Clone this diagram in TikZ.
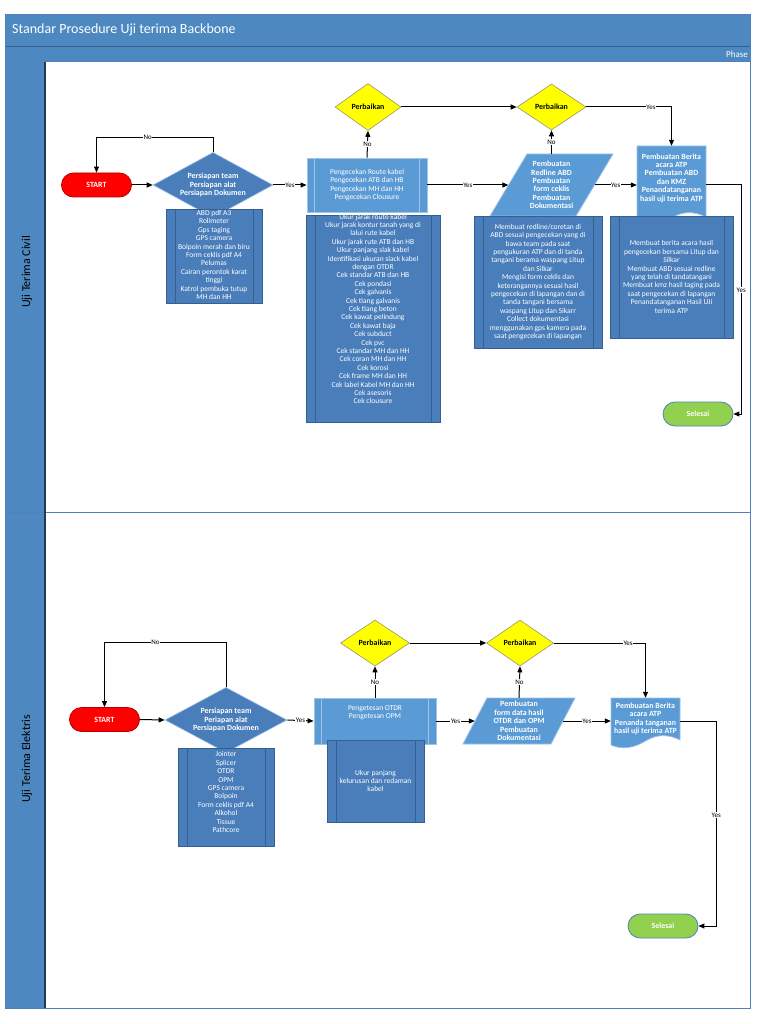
\documentclass[tikz,border=0pt]{standalone}
\usepackage{fontspec}
\setmainfont{Carlito}
\usetikzlibrary{shapes.geometric,arrows.meta,calc}
\definecolor{hdrblue}{RGB}{77,136,193}
\definecolor{hdrline}{RGB}{55,96,146}
\definecolor{frameblue}{RGB}{79,129,189}
\definecolor{procblue}{RGB}{91,155,213}
\definecolor{procborder}{RGB}{157,195,230}
\definecolor{listblue}{RGB}{74,126,187}
\definecolor{listborder}{RGB}{54,95,145}
\definecolor{perbyellow}{RGB}{255,255,0}
\definecolor{perbborder}{RGB}{150,150,110}
\definecolor{startred}{RGB}{255,0,0}
\definecolor{startborder}{RGB}{180,0,0}
\definecolor{endgreen}{RGB}{146,208,80}
\definecolor{endborder}{RGB}{79,129,189}
\begin{document}
\begin{tikzpicture}[x=1pt,y=-1pt,
  txtb/.style={text=white, font=\fontsize{7.9}{8.4}\selectfont\bfseries, align=center, inner sep=0pt},
  listtxt/.style={text=white, font=\fontsize{7.5}{8.4}\selectfont, align=center, inner sep=0pt},
  term/.style={rectangle, rounded corners=12pt, minimum width=70pt, minimum height=24pt, line width=0.8pt, txtb},
  startnode/.style={term, fill=startred, draw=startborder},
  endnode/.style={term, fill=endgreen, draw=endborder},
  dec/.style={diamond, fill=listblue, draw=procborder, line width=0.6pt, txtb, inner sep=-6pt, minimum width=120pt, minimum height=56pt},
  perb/.style={diamond, fill=perbyellow, draw=perbborder, line width=0.6pt, inner sep=0pt, text=black, font=\fontsize{7.9}{8.4}\selectfont\bfseries},
  proc/.style={rectangle, fill=procblue, draw=procborder, line width=0.8pt, listtxt,
    path picture={\draw[procborder, line width=0.6pt]
      ([xshift=7.5pt]path picture bounding box.north west) -- ([xshift=7.5pt]path picture bounding box.south west)
      ([xshift=-7.5pt]path picture bounding box.north east) -- ([xshift=-7.5pt]path picture bounding box.south east);}},
  listbox/.style={rectangle, fill=listblue, draw=listborder, line width=0.8pt, inner sep=0pt,
    path picture={\draw[listborder, line width=0.6pt]
      ([xshift=9pt]path picture bounding box.north west) -- ([xshift=9pt]path picture bounding box.south west)
      ([xshift=-9pt]path picture bounding box.north east) -- ([xshift=-9pt]path picture bounding box.south east);}},
  shapefill/.style={fill=procblue, draw=procborder, line width=0.8pt},
  conn/.style={draw=black, line width=1pt, -{Triangle[length=6pt,width=5pt]}},
  lbl/.style={fill=white, inner sep=0.6pt, text=black, font=\fontsize{7}{7.5}\selectfont}
]
\useasboundingbox (0,0) rectangle (768,1024);
\fill[white] (0,0) rectangle (768,1024);

% ---------- frame ----------
\fill[hdrblue] (5,15) rectangle (750,62);
\draw[hdrline, line width=0.8pt] (5,46) -- (750,46);
\node[anchor=west, text=white, font=\fontsize{14}{16}\selectfont, inner sep=0pt] (title) at (12,30) {Standar Prosedure Uji terima Backbone};
\node[anchor=east, text=white, font=\fontsize{9}{10}\selectfont, inner sep=0pt] (phase) at (748,54) {Phase};
\fill[hdrblue] (5,62) rectangle (45,1008);
\draw[frameblue, line width=1pt] (45,62) rectangle (750,1008);
\draw[frameblue, line width=1pt] (5,512) -- (750,512);
\draw[frameblue, line width=1pt] (5,15) rectangle (750,1008);
\draw[hdrline!60!black, line width=1.3pt] (45,62) -- (45,1008);
\node[rotate=90, text=black, font=\fontsize{12}{14}\selectfont] (lane1) at (27,272) {Uji Terima Civil};
\node[rotate=90, text=black, font=\fontsize{12}{14}\selectfont] (lane2) at (27,759) {Uji Terima Elektris};

% ---------- lane 1 ----------
\node[startnode] (s1) at (96.5,185) {START};
\node[dec] (dm1) at (213,185) {Persiapan team\\Persiapan alat\\Persiapan Dokumen};
\node[listbox, minimum width=96pt, minimum height=94pt] (la) at (214,256) {};
\node[listtxt, anchor=north] (lat) at ([yshift=-1.5pt]la.north) {ABD pdf A3\\Rolimeter\\Gps taging\\GPS camera\\Bolpoin merah dan biru\\Form ceklis pdf A4\\Pelumas\\Cairan perontok karat\\tinggi\\Katrol pembuka tutup\\MH dan HH};

\node[proc, minimum width=120pt, minimum height=54pt] (b1) at (367,185) {Pengecekan Route kabel\\Pengecekan ATB dan HB\\Pengecekan MH dan HH\\Pengecekan Clousure};
\node[listbox, minimum width=134pt, minimum height=207pt] (lb) at (373,318.5) {};
\node[listtxt, anchor=north] (lbt) at ([yshift=1pt]lb.north) {Ukur jarak route kabel\\Ukur jarak kontur tanah yang di\\lalui rute kabel\\Ukur jarak rute ATB dan HB\\Ukur panjang slak kabel\\Identifikasi ukuran slack kabel\\dengan OTDR\\Cek standar ATB dan HB\\Cek pondasi\\Cek galvanis\\Cek tiang galvanis\\Cek tiang beton\\Cek kawat pelindung\\Cek kawat baja\\Cek subduct\\Cek pvc\\Cek standar MH dan HH\\Cek coran MH dan HH\\Cek korosi\\Cek frame MH dan HH\\Cek label Kabel MH dan HH\\Cek asesoris\\Cek clousure};

\node[perb, minimum width=66pt, minimum height=47pt] (pb1) at (368,107) {Perbaikan};
\node[perb, minimum width=69pt, minimum height=46pt] (pb2) at (551.5,107) {Perbaikan};

\filldraw[shapefill] (490,216) -- (576,216) -- (613,154) -- (527,154) -- cycle;
\node[txtb, minimum width=86pt, minimum height=62pt] (p1) at (551.5,185) {Pembuatan\\Redline ABD\\Pembuatan\\form ceklis\\Pembuatan\\Dokumentasi};
\node[listbox, listtxt, minimum width=128pt, minimum height=132pt] (lc) at (538,282) {Membuat redline/coretan di\\ABD sesuai pengecekan yang di\\bawa team pada saat\\pengukuran ATP dan di tanda\\tangani berama waspang Litup\\dan Silkar\\Mengisi form ceklis dan\\keterangannya sesuai hasil\\pengecekan di lapangan dan di\\tanda tangani bersama\\waspang Litup dan Sikarr\\Collect dokumentasi\\menggunakan gps kamera pada\\saat pengecekan di lapangan};

\filldraw[shapefill] (637,146) -- (706,146) -- (706,217) .. controls (694,211) and (683,211) .. (671.5,218) .. controls (660,225) and (648,227) .. (637,222) -- cycle;
\node[txtb, minimum width=69pt, minimum height=64pt] (d1) at (671.5,178) {Pembuatan Berita\\acara ATP\\Pembuatan ABD\\dan KMZ\\Penandatanganan\\hasil uji terima ATP};
\node[listbox, listtxt, minimum width=123pt, minimum height=122pt] (ld) at (671.5,277) {Membuat berita acara hasil\\pengecekan bersama Litup dan\\Silkar\\Membuat ABD sesuai redline\\yang telah di tandatangani\\Membuat kmz hasil taging pada\\saat pengecekan di lapangan\\Penandatanganan Hasil UJi\\terima ATP};

\node[endnode] (se1) at (698,414) {Selesai};

% connectors lane 1
\draw[conn] (s1.east) -- (dm1.west);
\draw[conn] (dm1.north) -- ++(0,-15) -| node[lbl, pos=0.28] {No} (s1.north);
\draw[conn] (dm1.east) -- node[lbl] {Yes} (b1.west);
\draw[conn] (b1.north) -- node[lbl] {No} (pb1.south);
\draw[conn] (pb1.east) -- (pb2.west);
\draw[conn] (b1.east) -- node[lbl] {Yes} (p1.west);
\draw[conn] (p1.north) -- node[lbl] {No} (pb2.south);
\draw[conn] (pb2.east) -| node[lbl, pos=0.38] {Yes} (d1.north);
\draw[conn] (p1.east) -- node[lbl] {Yes} (p1.east -| d1.west);
\draw[conn] (d1.east |- p1.east) -- ++(35,0) |- node[lbl, pos=0.23] {Yes} (se1.east);

% ---------- lane 2 ----------
\node[startnode] (s2) at (104.5,719.5) {START};
\node[dec, minimum width=122pt] (dm2) at (226,720) {Persiapan team\\Periapan alat\\Persiapan Dokumen};
\node[listbox, minimum width=96pt, minimum height=98pt] (le) at (226,797) {};
\node[listtxt, anchor=north] (let) at ([yshift=-4pt]le.north) {Jointer\\Splicer\\OTDR\\OPM\\GPS camera\\Bolpoin\\Form ceklis pdf A4\\Alkohol\\Tissue\\Pathcore};

\node[proc, minimum width=122pt, minimum height=46pt] (b2) at (375,721) {};
\node[listtxt] (b2t) at (375,713) {Pengetesan OTDR\\Pengetesan OPM};
\node[listbox, listtxt, minimum width=97pt, minimum height=82pt] (lf) at (375.5,781) {Ukur panjang\\kelurusan dan redaman\\kabel};

\node[perb, minimum width=69pt, minimum height=46pt] (pb3) at (375,643) {Perbaikan};
\node[perb, minimum width=67pt, minimum height=46pt] (pb4) at (520,643) {Perbaikan};

\filldraw[shapefill] (463,744) -- (551,744) -- (575,698) -- (487,698) -- cycle;
\node[txtb, minimum width=88pt, minimum height=46pt] (p2) at (519,721) {Pembuatan\\form data hasil\\OTDR dan OPM\\Pembuatan\\Dokumentasi};

\filldraw[shapefill] (611,698) -- (680,698) -- (680,740) .. controls (668,734) and (657,734) .. (645.5,741) .. controls (634,748) and (622,750) .. (611,745) -- cycle;
\node[txtb, minimum width=69pt, minimum height=42pt] (d2) at (645.5,719) {Pembuatan Berita\\acara ATP\\Penanda tanganan\\hasil uji terima ATP};

\node[endnode] (se2) at (663,926) {Selesai};

% connectors lane 2
\draw[conn] (s2.east) -- (dm2.west);
\draw[conn] (dm2.north) -- ++(0,-45) -| node[lbl, pos=0.29] {No} (s2.north);
\draw[conn] (dm2.east) -- node[lbl] {Yes} (b2.west);
\draw[conn] (b2.north) -- node[lbl] {No} (pb3.south);
\draw[conn] (pb3.east) -- (pb4.west);
\draw[conn] (b2.east) -- node[lbl] {Yes} (p2.west);
\draw[conn] (p2.north) -- node[lbl] {No} (pb4.south);
\draw[conn] (pb4.east) -| node[lbl, pos=0.405] {Yes} (d2.north);
\draw[conn] (p2.east) -- node[lbl] {Yes} (p2.east -| d2.west);
\draw[conn] (d2.east |- p2.east) -- ++(36,0) |- node[lbl, pos=0.23] {Yes} (se2.east);
\end{tikzpicture}
\end{document}
